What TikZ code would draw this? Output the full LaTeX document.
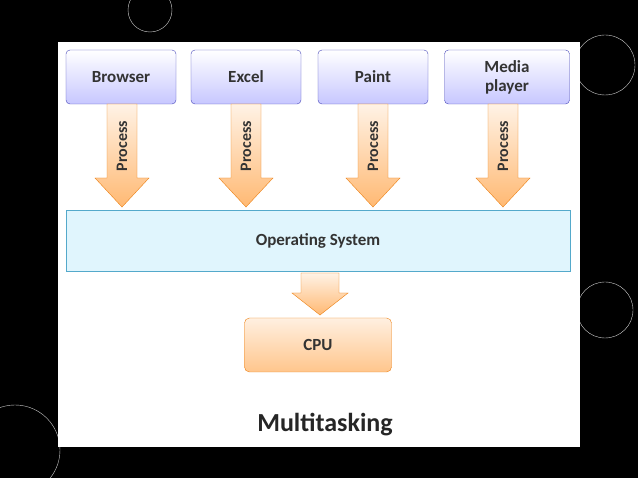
\documentclass[tikz,border=0pt]{standalone}
\usepackage{fontspec}
\setmainfont{Carlito}
\tikzset{
  app/.style={draw=blue!45!gray, rounded corners=4pt, top color=white, bottom color=blue!22,
    minimum width=110pt, minimum height=54pt, font=\bfseries\fontsize{17}{19}\selectfont, align=center, text=black!80},
  proc/.style={draw=orange!70!brown, top color=orange!10, bottom color=orange!55},
}
\begin{document}
\begin{tikzpicture}[x=1pt, y=-1pt]
\useasboundingbox (0,0) rectangle (638,478);
% Background
    \fill[black] (0,0) rectangle (638,478);
    \begin{scope}
    \clip (0,0) rectangle (638,478);
    \draw[gray!40, thin] (150,10) circle(22);
    \draw[gray!40, thin] (605,65) circle(30);
    \draw[gray!40, thin] (605,310) circle(28);
    \draw[gray!40, thin] (15,450) circle(45);
    \end{scope}
    \fill[white] (58,42) rectangle (580,447);
% Applications
    \node[app] (browser) at (121,77) {Browser};
    \node[app] (excel) at (246,77) {Excel};
    \node[app] (paint) at (373,77) {Paint};
    \node[app, minimum width=125pt] (media) at (507,77) {Media\\player};
% Processes
    \foreach \n/\x in {browser/122, excel/246, paint/373, media/503} {
      \draw[proc] (\x-15,104) -- (\x+15,104) -- (\x+15,178) -- (\x+27,178) -- (\x,207)
        -- (\x-27,178) -- (\x-15,178) -- cycle;
      \node[rotate=90, font=\bfseries\fontsize{16}{17}\selectfont, text=black!80] (p\n) at (\x,146) {Process};
    }
% Operating system
    \node[draw=cyan!60!gray, fill=cyan!12, minimum width=504pt, minimum height=61pt,
      font=\bfseries\fontsize{17}{19}\selectfont, text=black!80] (os) at (318,241) {Operating System};
    \draw[proc] (301,273) -- (339,273) -- (339,293) -- (348,293) -- (320,315)
      -- (292,293) -- (301,293) -- cycle;
% CPU
    \node[draw=orange!70!brown, rounded corners=5pt, top color=orange!12, bottom color=orange!45,
      minimum width=147pt, minimum height=54pt, font=\bfseries\fontsize{17}{19}\selectfont, text=black!80] (cpu) at (318,345) {CPU};
    \node[font=\bfseries\fontsize{26}{28}\selectfont, text=black!85] (title) at (325,425) {Multitasking};
\end{tikzpicture}
\end{document}
